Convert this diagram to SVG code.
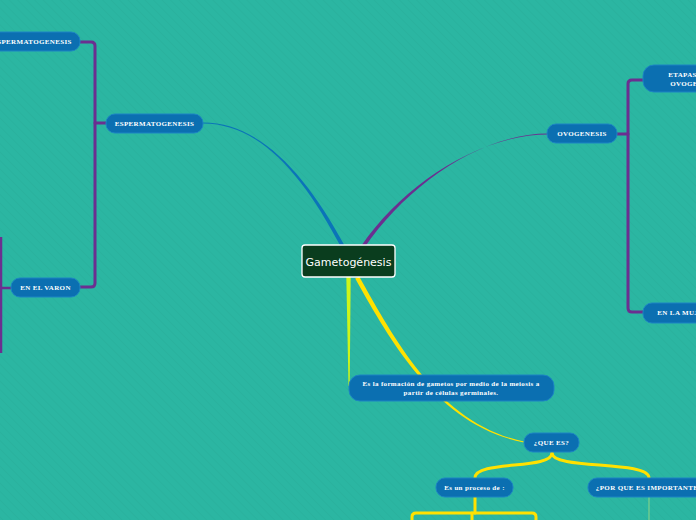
<svg xmlns="http://www.w3.org/2000/svg" width="696" height="520" viewBox="0 0 696 520">
<defs>
<pattern id="stripes" width="6" height="6" patternUnits="userSpaceOnUse" patternTransform="rotate(-45)">
<rect width="6" height="6" fill="#2bb6a2"/>
<line x1="0" y1="0" x2="0" y2="6" stroke="#29af9b" stroke-width="1.2"/>
</pattern>
<style>
.node{fill:#0b6fb1;stroke:#1c84c4;stroke-width:1}
.lbl{font-family:"Liberation Serif","Times New Roman",serif;font-weight:bold;font-size:7px;fill:#ffffff;text-anchor:middle;letter-spacing:0.35px}
.purple{fill:none;stroke:#6b2f90;stroke-width:3;stroke-linecap:round;stroke-linejoin:round}
.yel{fill:none;stroke:#ffe100;stroke-width:3;stroke-linecap:round;stroke-linejoin:round}
</style>
</defs>
<rect width="696" height="520" fill="url(#stripes)"/>

<g id="connectors">
<path d="M203,122.6 C260,122.6 306.3,174.3 344.8,246 L341.2,247.6 C303.7,175.7 260,123.4 203,123.4 Z" fill="#0b74b8"/>
<path d="M548,133.6 C480,133.6 406.3,186 364.5,247.5 L361.5,245.5 C403.7,184 480,134.4 548,134.4 Z" fill="#6b2f90"/>
<path d="M346.3,276 L350.7,276 L349.7,386 L348.5,386 Z" fill="#cdf51a"/>
<path d="M359.2,276.5 C397,344 441,424.4 524,441.5 L524,442.5 C439,425.6 393,346 355.2,278.5 Z" fill="#ffe100"/>
<path class="purple" d="M80,42 H91 Q95,42 95,46 V283 Q95,287 91,287 H80"/>
<path class="purple" d="M95,123 H106"/>
<path fill="none" stroke="#6b2f90" stroke-width="2.5" d="M11,288 H1 M1,237 V353"/>
<path class="purple" d="M643,80 H632 Q628,80 628,84 V308 Q628,312 632,312 H643"/>
<path class="purple" d="M617,134 H628"/>
<path class="yel" d="M552,453 C552,470 475,460 475,478"/>
<path class="yel" d="M552,453 C552,470 649,460 649,478"/>
<path class="yel" d="M475,497 V513"/>
<path class="yel" d="M412,522 V517 Q412,513 416,513 H532 Q536,513 536,517 V522"/>
<path class="yel" d="M472,513 V522"/>
<path fill="none" stroke="#7fd08a" stroke-width="1.2" d="M649,497 V520"/>
</g>

<g id="n-center">
<rect x="302" y="245" width="93" height="32" rx="3" fill="#0a3d1e" stroke="#ffffff" stroke-width="1.3"/>
<text x="348.5" y="265.5" font-family="'DejaVu Sans',sans-serif" font-size="11" fill="#ffffff" text-anchor="middle">Gametogénesis</text>
</g>
<g id="n-esp-top">
<rect class="node" x="-14" y="32" width="94" height="19" rx="9"/>
<text class="lbl" x="32" y="44">ESPERMATOGENESIS</text>
</g>
<g id="n-esp">
<rect class="node" x="106" y="114" width="97" height="19" rx="9"/>
<text class="lbl" x="154.5" y="126">ESPERMATOGENESIS</text>
</g>
<g id="n-varon">
<rect class="node" x="11" y="278" width="69" height="19" rx="9"/>
<text class="lbl" x="45.5" y="290">EN EL VARON</text>
</g>
<g id="n-ovo">
<rect class="node" x="547" y="124" width="70" height="19" rx="9"/>
<text class="lbl" x="582" y="136">OVOGENESIS</text>
</g>
<g id="n-etapas">
<rect class="node" x="643" y="65" width="90" height="27" rx="11"/>
<text class="lbl" x="695" y="77">ETAPAS DE LA</text>
<text class="lbl" x="695" y="86">OVOGENESIS</text>
</g>
<g id="n-mujer">
<rect class="node" x="643" y="303" width="80" height="20" rx="9"/>
<text class="lbl" x="683" y="315">EN LA MUJER</text>
</g>
<g id="n-formacion">
<rect class="node" x="349" y="375" width="205" height="26" rx="11"/>
<text class="lbl" x="451" y="386" letter-spacing="0.15">Es la formación de gametos por medio de la meiosis a</text>
<text class="lbl" x="451" y="395" letter-spacing="0.15">partir de células germinales.</text>
</g>
<g id="n-quees">
<rect class="node" x="524" y="433" width="55" height="19" rx="9"/>
<text class="lbl" x="551.5" y="445">¿QUE ES?</text>
</g>
<g id="n-proceso">
<rect class="node" x="436" y="478" width="77" height="19" rx="9"/>
<text class="lbl" x="474.5" y="490">Es un proceso de :</text>
</g>
<g id="n-importante">
<rect class="node" x="588" y="478" width="122" height="19" rx="9"/>
<text class="lbl" x="649" y="490">¿POR QUE ES IMPORTANTE?</text>
</g>
</svg>
